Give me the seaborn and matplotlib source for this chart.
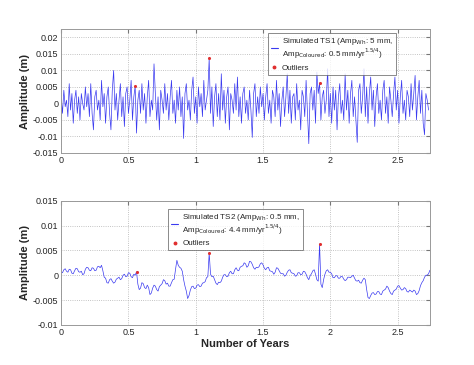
import numpy as np
import pandas as pd
import seaborn as sns
import matplotlib
matplotlib.use('Agg')
import matplotlib.pyplot as plt
from matplotlib.ticker import FuncFormatter
from matplotlib.lines import Line2D

# TS1 values in mm, one every 0.01 yr
ts1_mm = [2, -3, 4, -1, 1, -4, 6, -2, 3, -6,
          1, 4, -3, 2, -5, 3, 0, -2, 5, -1,
          3, -4, 6, -3, -8, 2, 4, -2, 1, -5,
          7, -1, 3, -6, 2, 5, -3, -8, 4, 10,
          -2, 3, -5, 1, 6, -4, 2, -7, 3, 5,
          -3, 1, 7, -5, 2, 5.3, -9, 1, 4, -3,
          6, -2, 3, -6, 2, 7, -4, 1, -2, 12,
          3, -5, 2, -8, 4, 1, -3, 6, -2, 3,
          -5, 2, 7, -3, 1, -6, 4, -2, 5, -4,
          2, -10.6, 3, 6, -2, 1, -5, 4, 8, -3,
          2, -6, 5, -1, 3, -4, 7, -2, 1, 4,
          13.7, -3, 5, -7, 2, 6, -4, 3, -5, 9,
          -2, 4, -6, 2, 5, -8, 3, 1, -3, 6,
          -2, 8, -4, 2, -6, 3, 5, -3, 1, -5,
          4, -2, -10.3, 3, 6, -4, 2, -3, 5, -1,
          3, -5, 2, 6, -3, 1, -6, 4, 2, -4,
          7, -2, 3, -7, 1, 5, -4, 2, 9, -3,
          4, -6, 2, 3, -5, 6, -2, 1, -8, 4,
          2, -4, 7, -3, -12.2, 3, 5, -2, 4, -6,
          9.5, 3, 6.2, -5, 2, 4, -3, 1, 10.5, -4,
          3, -6, 5, -2, 4, -8, 2, 6, -3, 1,
          -5, 9, -2, 4, -6, 3, 7, -4, 2, -5,
          -11.8, 4, 6, -3, 2, 10.5, -4, 5, -6, 3,
          8, -2, 4, -7, 2, 6, -3, 1, -5, 4,
          7, -3, 2, -6, 5, 1, -4, 3, 8, -2,
          4, -6, 2, 7, -3, 1, -5, 4, 2, -4,
          6, -2, 3, 8.5, -5, 2, 7, -3, 4, -6,
          -9.5, 3, 1, -2]
ts1_years = [i * 0.01 for i in range(len(ts1_mm))]
ts1_out_years = [0.55, 1.10, 1.92]
ts1_out_mm = [5.3, 13.7, 6.2]

# TS2 values in mm, one every 0.01 yr
ts2_mm = [0.6, 0.5, 1.1, 1.3, 0.8, 0.6, 1.2, 1.1, 0.4, 0.3, 0.9, 1.4, 1.3, 0.7, 0.6, 0.8, 0.1, 0.3, 1.2, 1.6,
          1.5, 1.0, 0.9, 1.5, 1.4, 0.9, 1.0, 1.7, 1.8, 1.5, 2.0, 0.9, -0.4, -0.6, -1.5, -1.6, -0.9, -0.7, -1.2, -1.6,
          -1.4, -0.8, -0.6, -0.4, -0.9, -0.7, 0.0, 0.2, -0.3, -0.2, 0.5, 0.4, -0.3, -0.5, 0.2, 0.0, 0.7, -1.8, -2.9, -2.6,
          -1.5, -1.7, -2.5, -2.7, -2.0, -2.5, -3.9, -3.6, -2.6, -2.0, -2.2, -2.9, -3.2, -2.3, -2.0, -1.7, -0.9, -1.1, -1.8, -1.6,
          -2.2, -2.2, -1.5, -0.9, -0.8, 1.2, 3.0, 2.0, 1.6, 1.4, 0.8, -0.9, -2.2, -3.2, -4.7, -4.1, -3.0, -2.3, -2.2, -2.7,
          -2.6, -2.0, -1.9, -2.3, -2.2, -1.6, -1.5, -1.3, -0.5, -0.3, 4.5, 0.2, -0.3, -0.2, -0.9, -1.6, -1.9, -1.4, -1.5, -1.2,
          -0.4, 0.1, 0.1, -0.3, -0.2, 0.5, 0.8, 0.3, 0.3, 1.1, 1.5, 1.0, 0.9, 1.6, 1.8, 1.9, 2.5, 2.3, 1.6, 1.9,
          2.8, 2.7, 2.2, 1.5, 1.2, 1.6, 1.5, 1.7, 2.3, 2.5, 2.1, 1.4, 1.1, 1.5, 1.6, 0.9, 0.8, 0.7, 0.2, 0.6,
          1.5, 1.4, 0.9, 0.4, 0.3, 0.3, -0.2, 0.0, 0.6, 1.0, 1.1, 0.5, 0.4, 0.3, -0.2, -0.1, 0.5, 0.5, 0.1, 0.2,
          0.8, 0.7, 0.2, -0.5, -0.9, -0.1, 0.3, 0.9, 1.1, 0.2, -0.9, -1.2, 6.3, -1.8, -2.5, -0.9, 0.2, 0.9, 1.1, 0.6,
          0.6, 0.3, -0.5, -0.5, -0.1, -0.1, -0.6, -0.6, -0.2, -0.3, -0.8, -1.1, -0.9, -0.4, -0.4, -0.5, -0.2, 0.0, -0.6, -1.1,
          -1.2, -1.0, -1.5, -1.6, -1.0, -0.6, -0.9, -2.9, -4.5, -4.7, -4.1, -3.6, -3.5, -3.9, -3.8, -3.3, -3.3, -3.8, -3.9, -3.2,
          -3.0, -2.8, -2.2, -2.5, -3.2, -3.7, -3.9, -3.2, -3.0, -2.8, -2.2, -2.1, -2.6, -3.0, -2.9, -2.5, -2.7, -3.3, -3.4, -3.0,
          -3.2, -3.4, -3.0, -3.2, -3.9, -3.7, -3.1, -2.1, -1.5, -1.1, -0.4, 0.0, 0.0, 0.3, 1.0]
ts2_years = [i * 0.01 for i in range(len(ts2_mm))]
ts2_out_years = [0.56, 1.10, 1.92]
ts2_out_mm = [0.7, 4.5, 6.3]

ts1 = pd.DataFrame({'t': ts1_years, 'amp': np.array(ts1_mm) / 1000})
ts1_out = pd.DataFrame({'t': ts1_out_years, 'amp': np.array(ts1_out_mm) / 1000})
ts2 = pd.DataFrame({'t': ts2_years, 'amp': np.array(ts2_mm) / 1000})
ts2_out = pd.DataFrame({'t': ts2_out_years, 'amp': np.array(ts2_out_mm) / 1000})

sns.set_style('white')
plt.rcParams['font.family'] = ['Liberation Sans', 'DejaVu Sans']

line_col = '#3a3af0'
out_col = '#e03030'

fig = plt.figure(figsize=(4.74, 3.65), dpi=100)
ax1 = fig.add_axes([0.129, 0.581, 0.778, 0.339])
ax2 = fig.add_axes([0.129, 0.110, 0.778, 0.340])

lab1 = 'Simulated TS1 (Amp$_{\\mathrm{Wh}}$: 5 mm,\nAmp$_{\\mathrm{Coloured}}$: 0.5 mm/yr$^{1.5/4}$)'
lab2 = 'Simulated TS2 (Amp$_{\\mathrm{Wh}}$: 0.5 mm,\nAmp$_{\\mathrm{Coloured}}$: 4.4 mm/yr$^{1.5/4}$)'

for ax, df, out in [(ax1, ts1, ts1_out), (ax2, ts2, ts2_out)]:
    sns.lineplot(x='t', y='amp', data=df, ax=ax, color=line_col, linewidth=0.5)
    sns.scatterplot(x='t', y='amp', data=out, ax=ax, color=out_col, s=5,
                    linewidth=0, marker='o', zorder=3)
    ax.set_xlim(0, 2.74)
    ax.set_xticks([0, 0.5, 1, 1.5, 2, 2.5])
    ax.grid(True, color='#b0b0b0', linestyle=':', linewidth=0.6)
    ax.tick_params(direction='in', length=3, labelsize=6.5, top=True, right=True,
                   color='#777777', pad=2)
    ax.yaxis.set_major_formatter(FuncFormatter(lambda v, p: '%g' % round(v, 4)))
    ax.xaxis.set_major_formatter(FuncFormatter(lambda v, p: '%g' % v))
    for s in ax.spines.values():
        s.set_color('#999999')
        s.set_linewidth(0.7)
    ax.set_ylabel('Amplitude (m)', fontsize=8, fontweight='bold', labelpad=2)
    ax.set_xlabel('')

ax1.set_ylim(-0.015, 0.0225)
ax1.set_yticks([-0.015, -0.01, -0.005, 0, 0.005, 0.01, 0.015, 0.02])
ax2.set_ylim(-0.01, 0.015)
ax2.set_yticks([-0.01, -0.005, 0, 0.005, 0.01, 0.015])
ax2.set_xlabel('Number of Years', fontsize=8, fontweight='bold', labelpad=2)

for ax, lab, anchor in [(ax1, lab1, (0.561, 0.968)), (ax2, lab2, (0.29, 0.935))]:
    handles = [Line2D([], [], color=line_col, linewidth=0.8),
               Line2D([], [], color=out_col, marker='o', markersize=1.8, linestyle='none')]
    leg = ax.legend(handles, [lab, 'Outliers'], loc='upper left', bbox_to_anchor=anchor,
                    fontsize=5.8, frameon=True, fancybox=False, handlelength=0.9,
                    handletextpad=0.5, borderpad=0.35, labelspacing=0.35, borderaxespad=0)
    leg.get_texts()[0].set_linespacing(1.0)
    leg.get_frame().set_edgecolor('#555555')
    leg.get_frame().set_linewidth(0.6)

fig.savefig('out.png', dpi=100)
